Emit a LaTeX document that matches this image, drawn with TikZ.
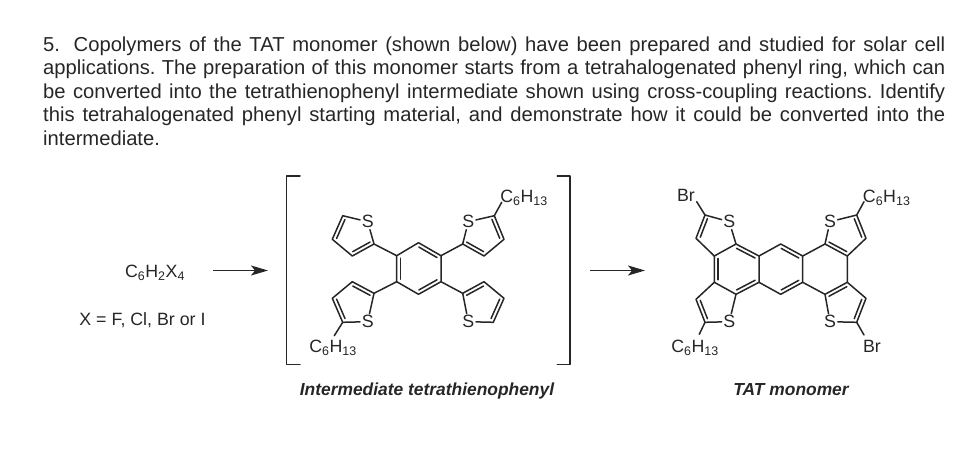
\documentclass[tikz,border=0pt]{standalone}
\usepackage{fontspec}
\setmainfont{Liberation Sans}
\usetikzlibrary{calc,arrows.meta}
\tikzset{
    bond/.style={line width=1.5pt, line cap=round, line join=round, color=black!85},
    atom/.style={inner sep=1.5pt, font=\fontsize{17.8}{20}\selectfont, text=black!85},
    caption/.style={inner sep=0pt, anchor=base, font=\fontsize{17.4}{20}\selectfont\bfseries\itshape, text=black!85},
    reaction/.style={line width=1.7pt, color=black!85, -{Stealth[length=17pt,width=10pt,inset=4pt]}},
}
\newcommand{\hexyl}{C\textsubscript{6}H\textsubscript{13}}
% second line of a double bond, on the left going from #1 to #2
\newcommand{\inbond}[2]{\draw[bond, shorten >=2.5pt, shorten <=2.5pt] ($(#1)!3.6pt!90:(#2)$) -- ($(#2)!3.6pt!-90:(#1)$);}
\begin{document}
\begin{tikzpicture}[x=1pt,y=-1pt]
    \useasboundingbox (0,0) rectangle (978,458);

    \node[anchor=north west, inner sep=0pt, text width=902pt, align=justify,
          font=\fontsize{20.2}{23.5}\selectfont\frenchspacing, text=black!85] (question) at (43,36.5)
    {5.\hspace{6pt} Copolymers of the TAT monomer (shown below) have been prepared and studied for solar cell\linebreak
    applications. The preparation of this monomer starts from a tetrahalogenated phenyl ring, which can\linebreak
    be converted into the tetrathienophenyl intermediate shown using cross-coupling reactions. Identify\linebreak
    this tetrahalogenated phenyl starting material, and demonstrate how it could be converted into the\linebreak
    intermediate.};

    % starting material
    \node[atom] (start) at (155,273) {C\textsubscript{6}H\textsubscript{2}X\textsubscript{4}};
    \node[atom] (halogen) at (142.5,320) {X = F, Cl, Br or I};
    \coordinate (R1) at (213,270.5);
    \coordinate (R2) at (268,270.5);
    \coordinate (R3) at (590,270.5);
    \coordinate (R4) at (645,270.5);
    \draw[reaction] (R1) -- (R2);
    \draw[reaction] (R3) -- (R4);

    % brackets
    \coordinate (K1) at (300,176);
    \coordinate (K2) at (286.7,176);
    \coordinate (K3) at (286.7,364.3);
    \coordinate (K4) at (300,364.3);
    \coordinate (K5) at (557.3,176);
    \coordinate (K6) at (570,176);
    \coordinate (K7) at (570,364.3);
    \coordinate (K8) at (557.3,364.3);
    \draw[bond] (K1) -- (K2) -- (K3) -- (K4);
    \draw[bond] (K5) -- (K6) -- (K7) -- (K8);

    % intermediate, central ring
    \coordinate (A1) at (418.5,242.7);
    \coordinate (A2) at (441,255.7);
    \coordinate (A3) at (441,281.7);
    \coordinate (A4) at (418.5,294.3);
    \coordinate (A5) at (396.7,281.7);
    \coordinate (A6) at (396.7,255.7);
    \draw[bond] (A1) -- (A2) -- (A3) -- (A4) -- (A5) -- (A6) -- cycle;
    \inbond{A2}{A1}
    \inbond{A4}{A3}
    \inbond{A6}{A5}

    % intermediate, thiophenes
    \node[atom] (S1) at (367.7,221.7) {S};
    \coordinate (B2) at (374,244);
    \coordinate (B3) at (352.3,256);
    \coordinate (B4) at (332.3,239.3);
    \coordinate (B5) at (342.7,215.7);
    \draw[bond] (A6) -- (B2) -- (B3) -- (B4) -- (B5) -- (S1) -- (B2);
    \inbond{B3}{B2}
    \inbond{B5}{B4}

    \node[atom] (S2) at (468.3,221.7) {S};
    \coordinate (C2) at (462.7,244);
    \coordinate (C3) at (484,256);
    \coordinate (C4) at (504,239.3);
    \coordinate (C5) at (494.3,215.7);
    \coordinate (C6) at (501.7,202.3);
    \node[atom] (H1) at (524,197.5) {\hexyl};
    \draw[bond] (A2) -- (C2) -- (C3) -- (C4) -- (C5) -- (S2) -- (C2);
    \draw[bond] (C5) -- (C6);
    \inbond{C2}{C3}
    \inbond{C4}{C5}

    \node[atom] (S3) at (367.7,321.7) {S};
    \coordinate (D2) at (374,293.3);
    \coordinate (D3) at (352.3,281.7);
    \coordinate (D4) at (332.3,298.3);
    \coordinate (D5) at (342.7,322.3);
    \coordinate (D6) at (334.3,335.7);
    \node[atom] (H2) at (333,348) {\hexyl};
    \draw[bond] (A5) -- (D2) -- (D3) -- (D4) -- (D5) -- (S3) -- (D2);
    \draw[bond] (D5) -- (D6);
    \inbond{D2}{D3}
    \inbond{D4}{D5}

    \node[atom] (S4) at (468.3,321.7) {S};
    \coordinate (E2) at (462.7,293.3);
    \coordinate (E3) at (484,281.7);
    \coordinate (E4) at (504,298.3);
    \coordinate (E5) at (493.3,322.3);
    \draw[bond] (A3) -- (E2) -- (E3) -- (E4) -- (E5) -- (S4) -- (E2);
    \inbond{E3}{E2}
    \inbond{E5}{E4}

    % monomer, three fused rings
    \coordinate (M1) at (780.7,244);
    \coordinate (M2) at (802.7,256);
    \coordinate (M3) at (802.7,282.3);
    \coordinate (M4) at (780.7,294.3);
    \coordinate (M5) at (759,282.3);
    \coordinate (M6) at (759,256);
    \coordinate (L1) at (736,244);
    \coordinate (L2) at (714.3,256);
    \coordinate (L3) at (714.3,282.3);
    \coordinate (L4) at (736,294.3);
    \coordinate (N1) at (825,244);
    \coordinate (N2) at (847.3,256);
    \coordinate (N3) at (847.3,282.3);
    \coordinate (N4) at (825,294.3);
    \draw[bond] (M1) -- (M2) -- (M3) -- (M4) -- (M5) -- (M6) -- cycle;
    \draw[bond] (M6) -- (L1) -- (L2) -- (L3) -- (L4) -- (M5);
    \draw[bond] (M2) -- (N1) -- (N2) -- (N3) -- (N4) -- (M3);
    \inbond{M2}{M1}
    \inbond{M4}{M3}
    \inbond{M6}{L1}
    \inbond{L2}{L3}
    \inbond{L4}{M5}
    \inbond{N1}{N2}
    \inbond{N3}{N4}

    % monomer, thiophenes
    \node[atom] (S5) at (729.3,221.7) {S};
    \coordinate (P1) at (696,238.3);
    \coordinate (P2) at (705,215);
    \coordinate (P3) at (696.7,201.7);
    \node[atom] (B6) at (686,195.7) {Br};
    \draw[bond] (L2) -- (P1) -- (P2) -- (S5) -- (L1);
    \draw[bond] (P2) -- (P3);
    \inbond{P2}{P1}

    \node[atom] (S6) at (729.3,321.7) {S};
    \coordinate (Q1) at (696,299.3);
    \coordinate (Q2) at (705,322.3);
    \coordinate (Q3) at (699.3,334.3);
    \node[atom] (H3) at (695,347.5) {\hexyl};
    \draw[bond] (L3) -- (Q1) -- (Q2) -- (S6) -- (L4);
    \draw[bond] (Q2) -- (Q3);
    \inbond{Q1}{Q2}

    \node[atom] (S7) at (830,221.7) {S};
    \coordinate (T1) at (866,238.3);
    \coordinate (T2) at (856.7,215);
    \coordinate (T3) at (864,201.7);
    \node[atom] (H4) at (886.7,198) {\hexyl};
    \draw[bond] (N2) -- (T1) -- (T2) -- (S7) -- (N1);
    \draw[bond] (T2) -- (T3);
    \inbond{T1}{T2}

    \node[atom] (S8) at (830,321.7) {S};
    \coordinate (U1) at (866,298.3);
    \coordinate (U2) at (856.7,322.3);
    \coordinate (U3) at (864,335);
    \node[atom] (B7) at (872,346.7) {Br};
    \draw[bond] (N3) -- (U1) -- (U2) -- (S8) -- (N4);
    \draw[bond] (U2) -- (U3);
    \inbond{U2}{U1}

    \node[caption] (name1) at (427,395) {Intermediate tetrathienophenyl};
    \node[caption] (name2) at (791,395) {TAT monomer};
\end{tikzpicture}
\end{document}
